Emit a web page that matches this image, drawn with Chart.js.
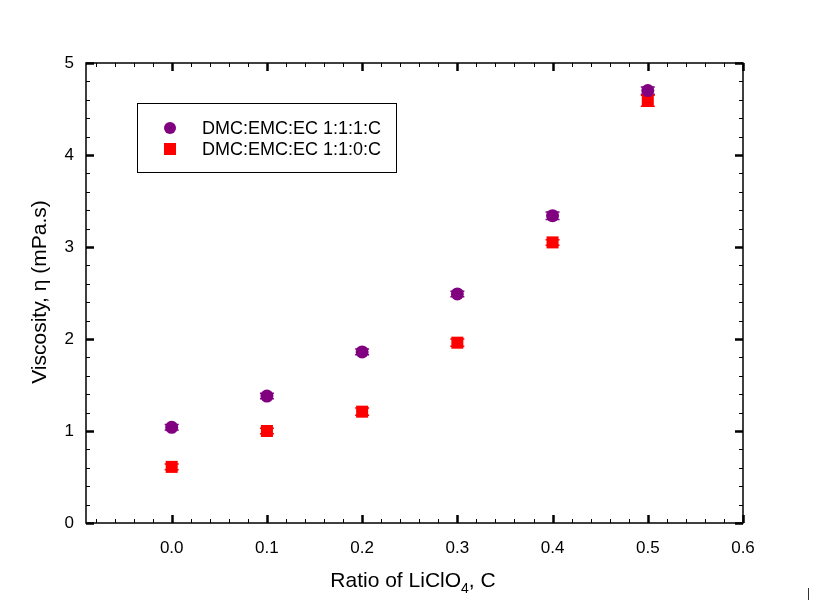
<!DOCTYPE html>
<html><head><meta charset="utf-8">
<script src="https://cdn.jsdelivr.net/npm/chart.js@4.4.1/dist/chart.umd.min.js"></script>
<style>html,body{margin:0;padding:0;background:#fff}#wrap{width:835px;height:602px}</style>
</head><body><div id="wrap"><canvas id="c" width="835" height="602"></canvas></div>
<script>
const ratios = [0.0, 0.1, 0.2, 0.3, 0.4, 0.5];
const viscTernary = [1.04, 1.38, 1.86, 2.49, 3.34, 4.70];
const errTernary = [0.03, 0.03, 0.03, 0.03, 0.04, 0.04];
const viscBinary = [0.61, 1.00, 1.21, 1.96, 3.05, 4.59];
const errBinary = [0.03, 0.03, 0.04, 0.04, 0.03, 0.06];
const seriesNames = ['DMC:EMC:EC 1:1:1:C', 'DMC:EMC:EC 1:1:0:C'];
const xTicks = [0.0, 0.1, 0.2, 0.3, 0.4, 0.5, 0.6];
const yTicks = [0, 1, 2, 3, 4, 5];
const xMinor = 0.02, yMinor = 0.2;

const FONT = '"Liberation Sans", Arial, sans-serif';

const errPlugin = {
  id: 'err',
  beforeDatasetsDraw(chart) {
    const ctx = chart.ctx, xs = chart.scales.x, ys = chart.scales.y;
    chart.data.datasets.forEach(ds => {
      ctx.save();
      ctx.strokeStyle = ds.backgroundColor; ctx.lineWidth = 1.5;
      ds.data.forEach((p, i) => {
        const e = ds.errors[i];
        const px = xs.getPixelForValue(p.x);
        const y1 = ys.getPixelForValue(p.y - e), y2 = ys.getPixelForValue(p.y + e);
        ctx.beginPath();
        ctx.moveTo(px, y1); ctx.lineTo(px, y2);
        ctx.moveTo(px - 7, y1); ctx.lineTo(px + 7, y1);
        ctx.moveTo(px - 7, y2); ctx.lineTo(px + 7, y2);
        ctx.stroke();
      });
      ctx.restore();
    });
  }
};

const framePlugin = {
  id: 'frame',
  afterDraw(chart) {
    const ctx = chart.ctx, xs = chart.scales.x, ys = chart.scales.y, a = chart.chartArea;
    ctx.save();
    ctx.strokeStyle = '#000'; ctx.lineWidth = 1.5;
    ctx.strokeRect(a.left, a.top, a.right - a.left, a.bottom - a.top);
    const xmin = xs.min, xmax = xs.max;
    for (let v = Math.ceil(xmin / xMinor - 1e-6) * xMinor; v <= xmax + 1e-9; v += xMinor) {
      const major = xTicks.some(t => Math.abs(t - v) < 1e-6);
      const px = Math.round(xs.getPixelForValue(v)) + 0.5;
      const L = major ? 8 : 4;
      ctx.lineWidth = major ? 2.5 : 1;
      ctx.beginPath();
      ctx.moveTo(px, a.bottom); ctx.lineTo(px, a.bottom - L);
      ctx.moveTo(px, a.top); ctx.lineTo(px, a.top + L);
      ctx.stroke();
    }
    for (let v = 0; v <= ys.max + 1e-9; v += yMinor) {
      const major = yTicks.some(t => Math.abs(t - v) < 1e-6);
      const py = Math.round(ys.getPixelForValue(v)) + 0.5;
      const L = major ? 8 : 4;
      ctx.lineWidth = major ? 2.5 : 1;
      ctx.beginPath();
      ctx.moveTo(a.left, py); ctx.lineTo(a.left + L, py);
      ctx.moveTo(a.right, py); ctx.lineTo(a.right - L, py);
      ctx.stroke();
    }
    // legend box
    ctx.lineWidth = 1;
    ctx.strokeStyle = '#000';
    ctx.strokeRect(137.5, 103.5, 259, 69);
    ctx.fillStyle = '#800080';
    ctx.beginPath(); ctx.arc(170, 128, 6, 0, Math.PI * 2); ctx.fill();
    ctx.fillStyle = '#ff0000';
    ctx.fillRect(164, 143, 12, 12);
    ctx.fillStyle = '#000';
    ctx.font = '18px ' + FONT;
    ctx.textBaseline = 'middle'; ctx.textAlign = 'left';
    ctx.fillText(seriesNames[0], 202, 129);
    ctx.fillText(seriesNames[1], 202, 150);
    // y title
    ctx.save();
    ctx.translate(40, 292); ctx.rotate(-Math.PI / 2);
    ctx.font = '21px ' + FONT; ctx.textAlign = 'center'; ctx.textBaseline = 'middle';
    ctx.fillText('Viscosity, \u03B7 (mPa.s)', 0, 0);
    ctx.restore();
    // x title with subscript
    ctx.font = '21px ' + FONT;
    const p1 = 'Ratio of LiClO', p3 = ', C';
    const w1 = ctx.measureText(p1).width, w3 = ctx.measureText(p3).width;
    ctx.font = '14px ' + FONT;
    const w2 = ctx.measureText('4').width;
    const total = w1 + w2 + w3;
    let x0 = 413 - total / 2;
    ctx.textAlign = 'left'; ctx.textBaseline = 'alphabetic';
    ctx.font = '21px ' + FONT;
    ctx.fillText(p1, x0, 587);
    ctx.font = '14px ' + FONT;
    ctx.fillText('4', x0 + w1, 593);
    ctx.font = '21px ' + FONT;
    ctx.fillText(p3, x0 + w1 + w2, 587);
    // stray mark
    ctx.strokeStyle = '#333'; ctx.lineWidth = 1;
    ctx.beginPath(); ctx.moveTo(808.5, 588); ctx.lineTo(808.5, 600); ctx.stroke();
    ctx.restore();
  }
};

new Chart(document.getElementById('c'), {
  type: 'scatter',
  data: {
    datasets: [
      { label: seriesNames[0], data: ratios.map((x, i) => ({ x, y: viscTernary[i] })), errors: errTernary,
        backgroundColor: '#800080', borderColor: '#800080', pointStyle: 'circle', pointRadius: 6.5, pointHoverRadius: 6.5, borderWidth: 0 },
      { label: seriesNames[1], data: ratios.map((x, i) => ({ x, y: viscBinary[i] })), errors: errBinary,
        backgroundColor: '#ff0000', borderColor: '#ff0000', pointStyle: 'rect', pointRadius: 8.5, pointHoverRadius: 8.5, borderWidth: 0 }
    ]
  },
  options: {
    responsive: false, animation: false, devicePixelRatio: 1,
    layout: { padding: { left: 0, right: 92, top: 63, bottom: 0 } },
    plugins: { legend: { display: false }, tooltip: { enabled: false } },
    scales: {
      x: {
        type: 'linear', min: -0.09, max: 0.6,
        afterFit: s => { s.height = 79; },
        afterBuildTicks: s => { s.ticks = xTicks.map(v => ({ value: v })); },
        grid: { display: false, drawTicks: false },
        border: { display: false },
        ticks: { color: '#000', font: { family: FONT, size: 17 }, padding: 15, callback: v => Number(v).toFixed(1), maxRotation: 0 }
      },
      y: {
        type: 'linear', min: 0, max: 5,
        afterFit: s => { s.width = 86; },
        afterBuildTicks: s => { s.ticks = yTicks.map(v => ({ value: v })); },
        grid: { display: false, drawTicks: false },
        border: { display: false },
        ticks: { color: '#000', font: { family: FONT, size: 17 }, padding: 12, callback: v => String(v) }
      }
    }
  },
  plugins: [errPlugin, framePlugin]
});
</script></body></html>
